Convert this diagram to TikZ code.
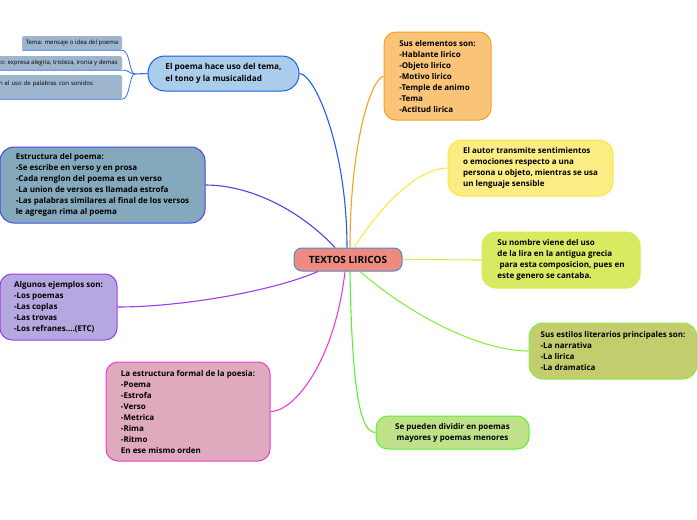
\documentclass[tikz,border=0pt]{standalone}
\usepackage{fontspec}
\setmainfont{Open Sans}
\usepackage{tikz}

\definecolor{rootfill}{HTML}{EE8B80}
\definecolor{rootline}{HTML}{4A8CCC}
\definecolor{temafill}{HTML}{AACDEC}
\definecolor{temaline}{HTML}{1E5EEA}
\definecolor{estrfill}{HTML}{84A9BD}
\definecolor{estrline}{HTML}{4646E6}
\definecolor{ejemfill}{HTML}{B5A8E0}
\definecolor{ejemline}{HTML}{A23AEA}
\definecolor{formfill}{HTML}{DFA9BE}
\definecolor{formline}{HTML}{F03BD9}
\definecolor{elemfill}{HTML}{F9C477}
\definecolor{elemline}{HTML}{F8A024}
\definecolor{autorfill}{HTML}{FBEC83}
\definecolor{autorline}{HTML}{F9E940}
\definecolor{nombfill}{HTML}{D9EA62}
\definecolor{nombline}{HTML}{CBF24A}
\definecolor{estifill}{HTML}{C4CD6D}
\definecolor{estiline}{HTML}{84F140}
\definecolor{divfill}{HTML}{BFE18A}
\definecolor{divline}{HTML}{5AF236}
\definecolor{subfill}{HTML}{9DB6CE}
\definecolor{subline}{HTML}{2E6CE8}

\begin{document}
\begin{tikzpicture}[x=1pt,y=-1pt,
    idea/.style={rounded corners=12pt, line width=1pt, align=left, inner sep=0pt,
        font=\fontsize{8}{11}\selectfont\bfseries},
    detail/.style={fill=subfill, rounded corners=1.5pt, inner sep=0pt, minimum height=14,
        font=\fontsize{6}{8}\selectfont},
    branch/.style={line width=1.1pt}]
            \useasboundingbox (0,0) rectangle (697,520);
            \node[idea, fill=rootfill, draw=rootline, rounded corners=8pt, minimum width=108, minimum height=23,
                font=\fontsize{10}{12}\selectfont\bfseries] (root) at (348,259.5) {TEXTOS LIRICOS};
            \node[idea, fill=temafill, draw=temaline, rounded corners=17pt, minimum width=151, minimum height=35,
                font=\fontsize{8.2}{12}\selectfont\bfseries] (tema) at (223.5,73.5) {El poema hace uso del tema,\\el tono y la musicalidad};
            \node[idea, fill=estrfill, draw=estrline, rounded corners=14pt, minimum width=205, minimum height=76] (estructura) at (102.5,185)
                {Estructura del poema:\\-Se escribe en verso y en prosa\\-Cada renglon del poema es un verso\\-La union de versos es llamada estrofa\\-Las palabras similares al final de los versos\\le agregan rima al poema};
            \node[idea, fill=ejemfill, draw=ejemline, minimum width=117, minimum height=66] (ejemplos) at (58.5,307)
                {Algunos ejemplos son:\\-Los poemas\\-Las coplas\\-Las trovas\\-Los refranes....(ETC)};
            \node[idea, fill=formfill, draw=formline, minimum width=164, minimum height=99] (formal) at (188,411.5)
                {La estructura formal de la poesia:\\-Poema\\-Estrofa\\-Verso\\-Metrica\\-Rima\\-Ritmo\\En ese mismo orden};
            \node[idea, fill=elemfill, draw=elemline, minimum width=107, minimum height=88] (elementos) at (437.5,76)
                {Sus elementos son:\\-Hablante lirico\\-Objeto lirico\\-Motivo lirico\\-Temple de animo\\-Tema\\-Actitud lirica};
            \node[idea, fill=autorfill, draw=autorline, rounded corners=14pt, minimum width=165, minimum height=56] (autor) at (530.5,168)
                {El autor transmite sentimientos\\o emociones respecto a una\\persona u objeto, mientras se usa\\un lenguaje sensible};
            \node[idea, fill=nombfill, draw=nombline, rounded corners=14pt, minimum width=158, minimum height=56] (nombre) at (561,260)
                {Su nombre viene del uso\\de la lira en la antigua grecia\\\ para esta composicion, pues en\\este genero se cantaba.};
            \node[idea, fill=estifill, draw=estiline, rounded corners=14pt, minimum width=168, minimum height=56] (estilos) at (613,351)
                {Sus estilos literarios principales son:\\-La narrativa\\-La lirica\\-La dramatica};
            \node[idea, fill=divfill, draw=divline, rounded corners=12pt, align=center, minimum width=153, minimum height=33] (dividir) at (452.5,432.5)
                {Se pueden dividir en poemas\\mayores y poemas menores};
            \node[detail, minimum width=100] (subtema) at (72,43) {Tema: mensaje o idea del poema};
            \node[detail, minimum width=126] (subtono) at (59,63) {o: expresa alegria, tristeza, ironia y demas};
            \node[detail, minimum width=126, minimum height=24, text width=120, align=left] (submusica) at (59,87)
                {n el uso de palabras con sonidos\\~};
            \coordinate (hub) at (135,74);
            \foreach \s in {subtema,subtono,submusica}
                \draw[subline, line width=0.8pt] (\s.south west) -- (\s.south east) .. controls +(8,0) and +(-6,0) .. (hub);
            \draw[branch, subline] (hub) -- (tema.west);
            \draw[branch, temaline] ([xshift=-1pt]root.north) .. controls +(0,-100) and +(15,0) .. (tema.east);
            \draw[branch, elemline] ([xshift=2pt]root.north) .. controls +(0,-100) and (370,80) .. (elementos.west);
            \draw[branch, autorline] ([xshift=6pt]root.north) .. controls (385,200) and (420,168) .. (autor.west);
            \draw[branch, nombline] (root.east) -- (nombre.west);
            \draw[branch, estiline] ([xshift=12pt]root.south) .. controls (410,315) and (480,351) .. (estilos.west);
            \draw[branch, divline] ([xshift=2pt]root.south) .. controls (352,390) and (360,432.5) .. (dividir.west);
            \draw[branch, formline] ([xshift=-3pt]root.south) .. controls (335,360) and (295,411.5) .. (formal.east);
            \draw[branch, ejemline] ([xshift=-30pt]root.south) .. controls (270,292) and (180,307) .. (ejemplos.east);
            \draw[branch, estrline] ([xshift=-13pt]root.north) .. controls (300,210) and (250,185) .. (estructura.east);
\end{tikzpicture}
\end{document}
